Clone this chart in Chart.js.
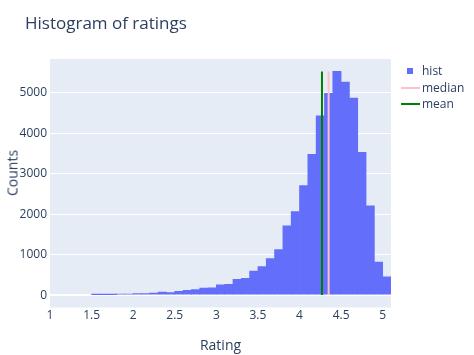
<!DOCTYPE html>
<html><head><meta charset="utf-8">
<script src="https://cdn.jsdelivr.net/npm/chart.js@4/dist/chart.umd.min.js"></script>
<style>
html,body{margin:0;padding:0;background:#fff;}
#wrap{position:relative;width:474px;height:355px;font-family:"Open Sans",sans-serif;color:#2a3f5f;overflow:hidden;}
canvas{position:absolute;left:0;top:0;}
#title{position:absolute;left:25px;top:13px;font-size:17px;line-height:20px;white-space:nowrap;}
#ytitle{position:absolute;left:11.5px;top:173px;font-size:14px;line-height:17px;white-space:nowrap;transform:translate(-50%,-50%) rotate(-90deg);}
.leg{position:absolute;left:400px;height:16px;width:74px;line-height:16px;font-size:12px;white-space:nowrap;}
.sym{position:absolute;}
.lab{position:absolute;left:22px;top:0;}
</style></head>
<body><div id="wrap"><canvas id="c" width="474" height="355"></canvas>
<div id="title">Histogram of ratings</div>
<div id="ytitle">Counts</div>
<div id="legend"></div></div>
<script>
// ---- data ----
const binStarts = [1.5,1.6,1.7,1.8,1.9,2.0,2.1,2.2,2.3,2.4,2.5,2.6,2.7,2.8,2.9,3.0,3.1,3.2,3.3,3.4,3.5,3.6,3.7,3.8,3.9,4.0,4.1,4.2,4.3,4.4,4.5,4.6,4.7,4.8,4.9,5.0];
const binWidth = 0.1;
const counts = [8,10,10,20,20,35,35,50,74,62,94,119,136,172,182,252,268,388,417,595,706,905,1128,1712,2064,2710,3478,4430,4990,5530,5265,4868,3528,2204,814,450];
const medianRating = 4.35;
const meanRating = 4.27;
const xTicks = [1,1.5,2,2.5,3,3.5,4,4.5,5];
const yTicks = [0,1000,2000,3000,4000,5000];
const seriesNames = ['hist','median','mean'];
const seriesColors = ['#636efa','pink','green'];

// ---- legend (HTML text) ----
const legend = document.getElementById('legend');
const rowTops = [63,79.5,95.5];
seriesNames.forEach((name,i)=>{
  const row = document.createElement('div');
  row.className='leg'; row.style.top = rowTops[i]+'px';
  const s = document.createElement('div'); s.className='sym';
  if(i===0){ s.style.cssText='position:absolute;left:6.5px;top:5px;width:6px;height:6px;background:'+seriesColors[i]; }
  else { s.style.cssText='position:absolute;left:0.5px;top:7.5px;width:19px;height:2px;background:'+seriesColors[i]; }
  const l = document.createElement('span'); l.className='lab'; l.textContent=name;
  row.appendChild(s); row.appendChild(l); legend.appendChild(row);
});

const maxCount = Math.max(...counts);
const bgPlugin = {
  id:'bg',
  beforeDraw(chart){
    const {ctx, chartArea:a} = chart;
    ctx.save(); ctx.fillStyle='#E5ECF6';
    ctx.fillRect(a.left, a.top, a.right-a.left, a.bottom-a.top);
    ctx.restore();
  }
};
const textColor = '#2a3f5f';
new Chart(document.getElementById('c'), {
  data:{
    datasets:[
      {type:'bar', label:seriesNames[0], order:3,
       data: binStarts.map((b,i)=>({x:b+binWidth/2, y:counts[i]})),
       backgroundColor:seriesColors[0], borderWidth:0, barPercentage:1, categoryPercentage:1},
      {type:'line', label:seriesNames[1], order:1,
       data:[{x:medianRating,y:0},{x:medianRating,y:maxCount}],
       borderColor:seriesColors[1], borderWidth:2, pointRadius:0, fill:false},
      {type:'line', label:seriesNames[2], order:2,
       data:[{x:meanRating,y:0},{x:meanRating,y:maxCount}],
       borderColor:seriesColors[2], borderWidth:2, pointRadius:0, fill:false}
    ]
  },
  options:{
    responsive:false, devicePixelRatio:1, animation:false,
    layout:{padding:{top:59,right:83,left:0,bottom:0}},
    plugins:{legend:{display:false}, title:{display:false}, tooltip:{enabled:false}},
    scales:{
      x:{type:'linear', min:1, max:5.1, offset:false,
         afterBuildTicks:(s)=>{ s.ticks = xTicks.map(v=>({value:v})); },
         afterFit:(s)=>{ s.height = 47.5; },
         grid:{display:false, drawTicks:false, offset:false}, border:{display:false},
         ticks:{padding:1, maxRotation:0, autoSkip:false, color:textColor,
                font:{family:'Open Sans', size:12}, callback:(v)=>String(v)},
         title:{display:true, text:'Rating', color:textColor, font:{family:'Open Sans', size:14}, padding:{top:0,bottom:1}}
      },
      y:{type:'linear', min:-307, max:5837,
         afterBuildTicks:(s)=>{ s.ticks = yTicks.map(v=>({value:v})); },
         afterFit:(s)=>{ s.width = 50; },
         grid:{color:'#ffffff', lineWidth:(c)=> (c.tick && c.tick.value===0) ? 2 : 1, drawTicks:false},
         border:{display:false},
         ticks:{padding:3, color:textColor, font:{family:'Open Sans', size:12}, callback:(v)=>String(v)},
         title:{display:false}
      }
    }
  },
  plugins:[bgPlugin]
});
</script>
</body></html>
